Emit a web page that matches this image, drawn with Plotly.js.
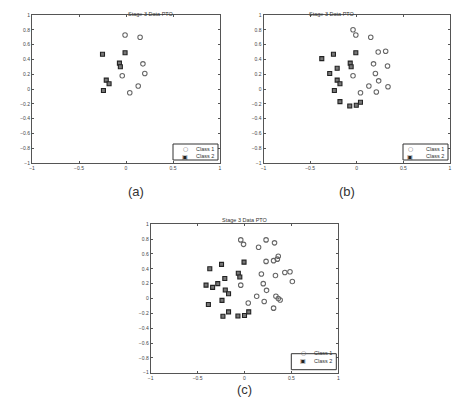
<!DOCTYPE html>
<html>
<head>
<meta charset="utf-8">
<script src="https://cdn.plot.ly/plotly-3.0.1.min.js"></script>
<style>
  html, body { margin: 0; padding: 0; background: #fff; }
  #chart { width: 474px; height: 409px; }
</style>
</head>
<body>
<div id="chart"></div>
<script>
// Stage 3 data, panel (a)
var aClass1X = [-0.01, 0.15, 0.18, 0.20, -0.04, 0.13, 0.04];
var aClass1Y = [0.73, 0.70, 0.34, 0.21, 0.18, 0.04, -0.05];
var aClass2X = [-0.25, -0.01, -0.07, -0.06, -0.21, -0.18, -0.24];
var aClass2Y = [0.47, 0.49, 0.35, 0.30, 0.12, 0.07, -0.02];

// panel (b)
var bClass1X = [-0.04, -0.01, 0.15, 0.23, 0.31, 0.18, 0.33, 0.20, -0.04, 0.235, 0.13, 0.335, 0.04, 0.21];
var bClass1Y = [0.80, 0.73, 0.70, 0.50, 0.51, 0.34, 0.31, 0.21, 0.18, 0.11, 0.04, 0.03, -0.05, -0.04];
var bClass2X = [-0.375, -0.25, -0.01, -0.21, -0.07, -0.06, -0.29, -0.21, -0.18, -0.24, -0.18, 0.04, -0.075, -0.005];
var bClass2Y = [0.41, 0.47, 0.49, 0.28, 0.35, 0.30, 0.21, 0.12, 0.07, -0.02, -0.17, -0.18, -0.23, -0.22];

// panel (c)
var cClass1X = [-0.04, -0.01, 0.15, 0.23, 0.32, 0.23, 0.31, 0.35, 0.36, 0.18, 0.33, 0.43,
                0.485, 0.51, -0.04, 0.20, 0.235, 0.13, 0.335, 0.36, 0.38, 0.04, 0.21, 0.31];
var cClass1Y = [0.79, 0.73, 0.69, 0.79, 0.75, 0.50, 0.51, 0.53, 0.57, 0.33, 0.31, 0.35,
                0.36, 0.23, 0.18, 0.20, 0.11, 0.03, 0.03, 0.00, -0.02, -0.06, -0.04, -0.13];
var cClass2X = [-0.245, -0.005, -0.37, -0.066, -0.05, -0.21, -0.41, -0.34, -0.285,
                -0.205, -0.17, -0.385, -0.24, -0.17, -0.23, -0.07, 0.0, 0.045];
var cClass2Y = [0.46, 0.49, 0.40, 0.34, 0.29, 0.27, 0.18, 0.15, 0.20,
                0.115, 0.065, -0.08, -0.025, -0.18, -0.24, -0.235, -0.23, -0.18];

var panelTitles = ["Stage 3 Data PTO", "Stage 3 Data PTO", "Stage 3 Data PTO"];
var panelCaptions = ["(a)", "(b)", "(c)"];
var classNames = ["Class 1", "Class 2"];

var W = 474, H = 409;
var font = "Liberation Sans, Arial, sans-serif";

var circleMarker = { symbol: "circle-open", size: 4.5, color: "#666", line: { width: 1.1, color: "#666" } };
var squareMarker = { symbol: "square", size: 4, color: "#777", line: { width: 1.1, color: "#222" } };

function pair(x1, y1, x2, y2, n) {
  var sfx = n === 1 ? "" : String(n);
  return [
    { x: x1, y: y1, type: "scatter", mode: "markers", name: classNames[0],
      xaxis: "x" + sfx, yaxis: "y" + sfx, showlegend: false, marker: circleMarker },
    { x: x2, y: y2, type: "scatter", mode: "markers", name: classNames[1],
      xaxis: "x" + sfx, yaxis: "y" + sfx, showlegend: false, marker: squareMarker }
  ];
}

var data = []
  .concat(pair(aClass1X, aClass1Y, aClass2X, aClass2Y, 1))
  .concat(pair(bClass1X, bClass1Y, bClass2X, bClass2Y, 2))
  .concat(pair(cClass1X, cClass1Y, cClass2X, cClass2Y, 3));

function axis(dom, anchor, dt) {
  return {
    domain: dom, anchor: anchor, range: [-1, 1], dtick: dt, tick0: -1,
    showgrid: false, zeroline: false, showline: true, mirror: "ticks",
    linecolor: "#555", linewidth: 1, ticks: "inside", ticklen: 2, tickcolor: "#555",
    tickfont: { size: 5, color: "#444", family: font }, fixedrange: true
  };
}

// pixel boxes of the three axes: [left, right, top, bottom]
var boxes = [[32, 220, 15, 163], [263.5, 450, 15, 163], [150.7, 338.3, 224.3, 372.7]];
function px(x) { return x / W; }
function py(y) { return 1 - y / H; }

var layout = {
  width: W, height: H,
  margin: { l: 0, r: 0, t: 0, b: 0 },
  paper_bgcolor: "#fff", plot_bgcolor: "#fff",
  showlegend: false,
  annotations: [], shapes: []
};
var sfxs = ["", "2", "3"];
var titleY = [9, 9, 219.5];
var capY = [191, 191, 399];
for (var i = 0; i < 3; i++) {
  var b = boxes[i], s = sfxs[i];
  layout["xaxis" + s] = axis([px(b[0]), px(b[1])], "y" + s, 0.5);
  layout["yaxis" + s] = axis([py(b[3]), py(b[2])], "x" + s, 0.2);
  var cx = (b[0] + b[1]) / 2;
  layout.annotations.push({ text: panelTitles[i], x: px(cx), y: py(titleY[i]), xref: "paper", yref: "paper",
    showarrow: false, font: { size: 5.5, color: "#333", family: font } });
  layout.annotations.push({ text: panelCaptions[i], x: px(cx), y: py(capY[i]), xref: "paper", yref: "paper",
    showarrow: false, font: { size: 13, color: "#333", family: font } });

  // legend box in the lower right corner
  var lr = b[1] - 2, lb = b[3] - 3, ll = lr - 45, lt = lb - 16;
  layout.shapes.push({ type: "rect", xref: "paper", yref: "paper",
    x0: px(ll), x1: px(lr), y0: py(lb), y1: py(lt),
    line: { color: "#333", width: 1 }, fillcolor: "#fff" });
  var keys = ["\u25CB", "\u25A3"], keyCol = ["#666", "#222"];
  for (var k = 0; k < 2; k++) {
    var ry = lt + 4.5 + k * 7.5;
    layout.annotations.push({ text: keys[k], x: px(ll + 12), y: py(ry), xref: "paper", yref: "paper",
      showarrow: false, font: { size: 6, color: keyCol[k], family: "DejaVu Sans" } });
    layout.annotations.push({ text: classNames[k], x: px(ll + 21), y: py(ry), xref: "paper", yref: "paper",
      xanchor: "left", showarrow: false, font: { size: 5.5, color: "#333", family: font } });
  }
}

Plotly.newPlot("chart", data, layout, { displayModeBar: false, staticPlot: true });
</script>
</body>
</html>
